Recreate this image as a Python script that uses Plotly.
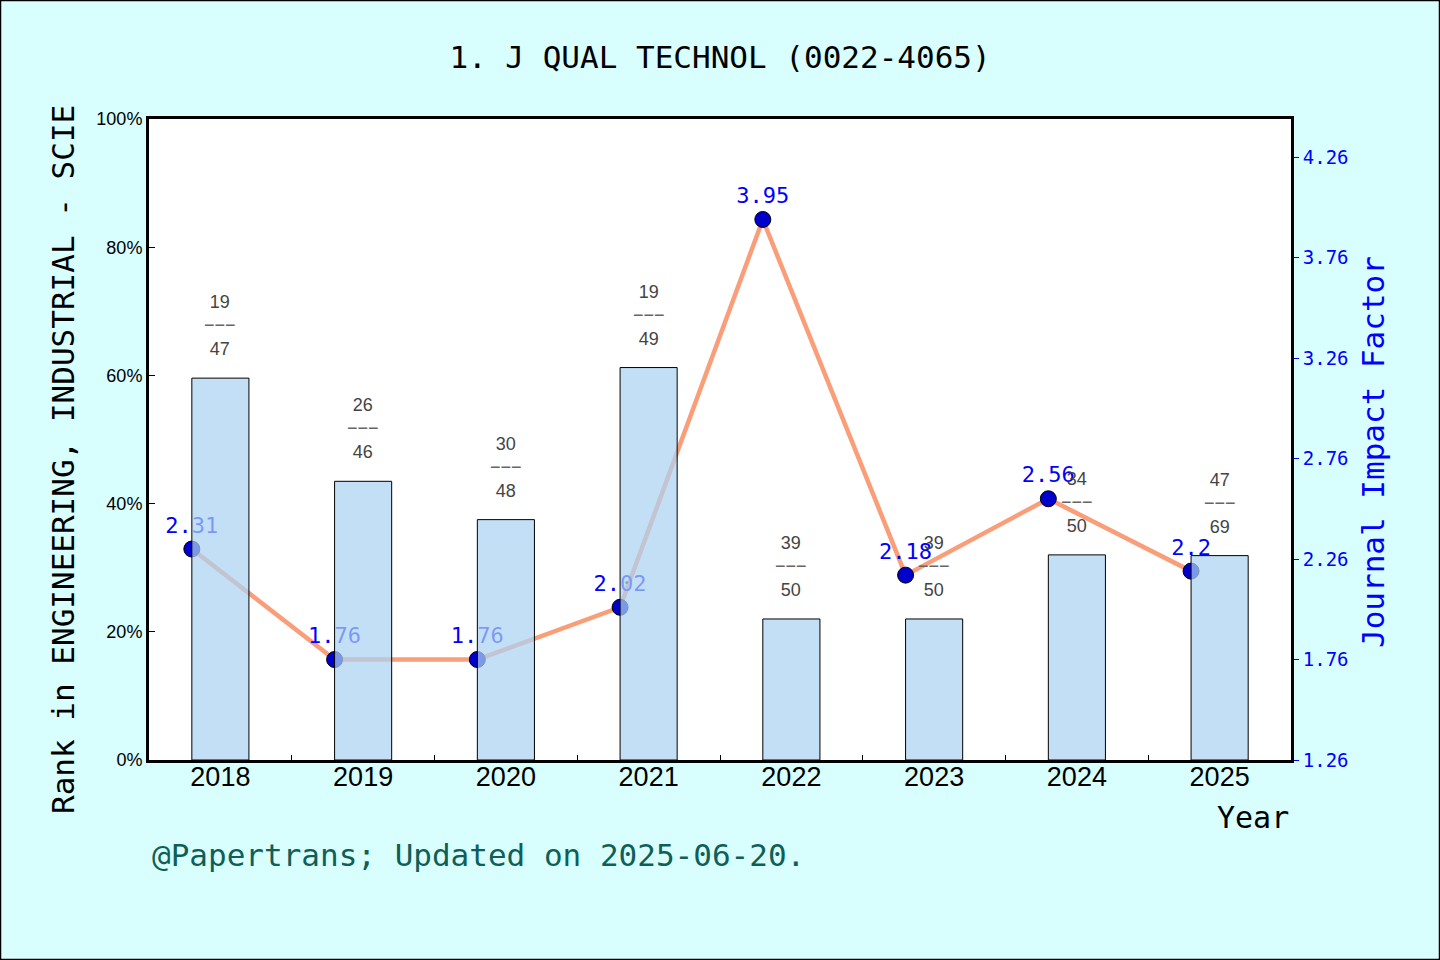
import plotly.graph_objects as go

years = ["2018", "2019", "2020", "2021", "2022", "2023", "2024", "2025"]
ranks = [19, 26, 30, 19, 39, 39, 34, 47]
totals = [47, 46, 48, 49, 50, 50, 50, 69]
impact = [2.31, 1.76, 1.76, 2.02, 3.95, 2.18, 2.56, 2.2]
if_ticks = [1.26, 1.76, 2.26, 2.76, 3.26, 3.76, 4.26]
pct_ticks = [0, 0.2, 0.4, 0.6, 0.8, 1.0]

W, H = 1440, 960
L, R, T, B = 149, 1291, 119, 760
pw, ph = R - L, B - T

def px(x):
    return (x - L) / pw

def py(y):
    return (B - y) / ph

xpos = list(range(len(years)))
share = [1 - r / t for r, t in zip(ranks, totals)]
line_x = [i - 0.2 for i in xpos]

MONO = "DejaVu Sans Mono"
SANS = "Liberation Sans"

fig = go.Figure()
fig.add_trace(go.Scatter(
    x=line_x, y=impact, mode="lines+markers+text",
    line=dict(color="#FA9E7A", width=4.5),
    marker=dict(color="#0000CD", size=16, line=dict(color="black", width=1)),
    text=[str(v) for v in impact], textposition="top center",
    textfont=dict(family=MONO, size=22, color="#0000FF"),
    yaxis="y", cliponaxis=False, showlegend=False,
))
fig.add_trace(go.Bar(
    x=xpos, y=share, width=0.4,
    marker=dict(color="rgba(172,210,242,0.72)", line=dict(color="black", width=1)),
    yaxis="y2", showlegend=False,
))

annotations = []
for i, (r, t, s) in enumerate(zip(ranks, totals, share)):
    annotations.append(dict(
        x=i, y=s, xref="x", yref="y2", xanchor="center", yanchor="bottom", yshift=17,
        text=f"{r}<br><span style='color:#666666'>\u2212\u2212\u2212</span><br>{t}",
        showarrow=False,
        font=dict(family=SANS, size=18, color="#444444"),
    ))

annotations += [
    dict(x=px(63), y=py(460), xref="paper", yref="paper", textangle=-90,
         xanchor="center", yanchor="middle",
         text="Rank in ENGINEERING, INDUSTRIAL - SCIE", showarrow=False,
         font=dict(family=MONO, size=31, color="black")),
    dict(x=px(1373), y=py(452), xref="paper", yref="paper", textangle=-90,
         xanchor="center", yanchor="middle",
         text="Journal Impact Factor", showarrow=False,
         font=dict(family=MONO, size=31, color="#0000FF")),
    dict(x=px(1253), y=py(817), xref="paper", yref="paper",
         xanchor="center", yanchor="middle",
         text="Year", showarrow=False,
         font=dict(family=MONO, size=30, color="black")),
    dict(x=px(150), y=py(855), xref="paper", yref="paper",
         xanchor="left", yanchor="middle",
         text="@Papertrans; Updated on 2025-06-20.", showarrow=False,
         font=dict(family=MONO, size=31, color="#0F5E58")),
]

fig.update_layout(
    width=W, height=H,
    margin=dict(l=L, r=W - R, t=T, b=H - B, pad=0),
    paper_bgcolor="#D8FEFE", plot_bgcolor="white",
    title=dict(text="1. J QUAL TECHNOL (0022-4065)", x=0.5, xanchor="center",
               y=1 - 57 / H, yanchor="middle",
               font=dict(family=MONO, size=31, color="black")),
    xaxis=dict(range=[-0.5, len(years) - 0.5], tickmode="array", tickvals=xpos,
               ticktext=years, ticks="", showgrid=False, zeroline=False,
               showline=True, linecolor="black", linewidth=3, mirror=True,
               ticklabelstandoff=-9,
               tickfont=dict(family=SANS, size=27, color="black"),
               minor=dict(tickmode="array", tickvals=[i + 0.5 for i in xpos[:-1]],
                          ticks="inside", ticklen=5, tickcolor="black", tickwidth=1,
                          showgrid=False)),
    yaxis=dict(range=[1.26, 4.45], side="right", tickmode="array", tickvals=if_ticks,
               ticktext=[f"{v:.2f}" for v in if_ticks], ticks="outside", ticklen=5,
               tickcolor="#0000FF", tickwidth=1, showgrid=False, zeroline=False,
               showline=True, linecolor="black", linewidth=3,
               tickfont=dict(family=MONO, size=19, color="#0000FF")),
    yaxis2=dict(range=[0, 1], overlaying="y", side="left", tickmode="array",
                tickvals=pct_ticks, ticktext=[f"{int(v*100)}%" for v in pct_ticks],
                ticks="inside", ticklen=6, tickcolor="black", tickwidth=1,
                showgrid=False, zeroline=False, showline=True, linecolor="black",
                linewidth=3, tickfont=dict(family=SANS, size=18, color="black")),
    annotations=annotations,
    shapes=[dict(type="rect", xref="paper", yref="paper",
                 x0=px(0.5), x1=px(W - 0.5), y0=py(H - 0.5), y1=py(0.5),
                 line=dict(color="black", width=1.5), fillcolor="rgba(0,0,0,0)",
                 layer="above")],
    bargap=0.6,
)

fig.write_html("out.html")
